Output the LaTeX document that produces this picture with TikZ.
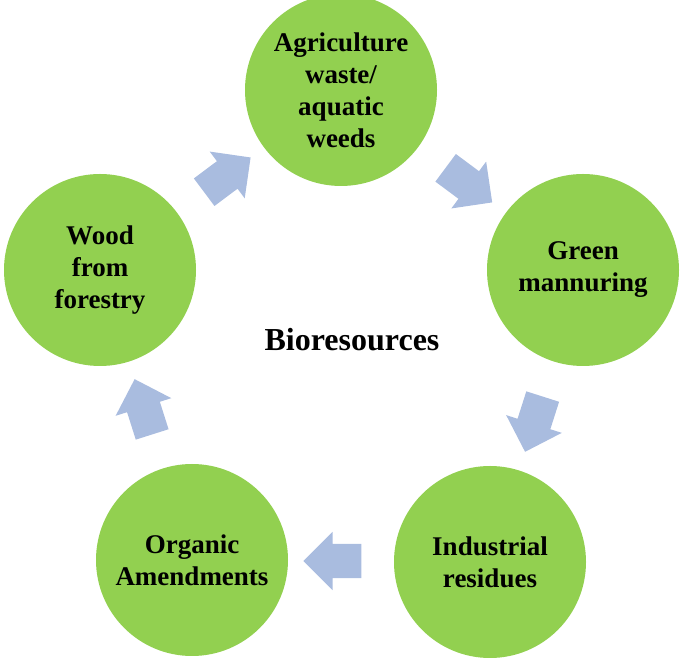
\documentclass[tikz,border=0pt]{standalone}
\usepackage{fontspec}
\setmainfont{Liberation Serif}
\usepackage{tikz}
\usetikzlibrary{shapes.arrows,calc}
\definecolor{leaf}{HTML}{92D050}
\definecolor{flow}{HTML}{A9BCDF}
\tikzset{stage/.style={circle,fill=leaf,minimum size=192pt,inner sep=0pt,align=center,font=\fontsize{27}{32}\selectfont\bfseries}}
\tikzset{turn/.style={single arrow,fill=flow,minimum height=58pt,inner xsep=0pt,inner ysep=17pt,single arrow head extend=12pt}}

\begin{document}
\begin{tikzpicture}[x=1pt,y=1pt]
		\useasboundingbox (0,0) rectangle (685,660);
		\node[stage] (agri) at (341,570) {Agriculture\\waste/\\aquatic\\weeds};
		\node[stage] (green) at (583,390) {Green\\mannuring};
		\node[stage] (indus) at (490,98) {Industrial\\residues};
		\node[stage] (organic) at (192,100) {Organic\\Amendments};
		\node[stage] (wood) at (100,390) {Wood\\from\\forestry};
		\node[font=\fontsize{32}{36}\selectfont\bfseries] (bio) at (352,320) {Bioresources};
		\node[turn,rotate=-36.6] (a1) at ($(agri)!0.5!(green)$) {};
		\node[turn,rotate=-107.7] (a2) at ($(green)!0.5!(indus)$) {};
		\node[turn,rotate=180] (a3) at ($(indus)!0.5!(organic)$) {};
		\node[turn,rotate=107.6] (a4) at ($(organic)!0.5!(wood)$) {};
		\node[turn,rotate=36.8] (a5) at ($(wood)!0.5!(agri)$) {};
	\end{tikzpicture}
\end{document}
